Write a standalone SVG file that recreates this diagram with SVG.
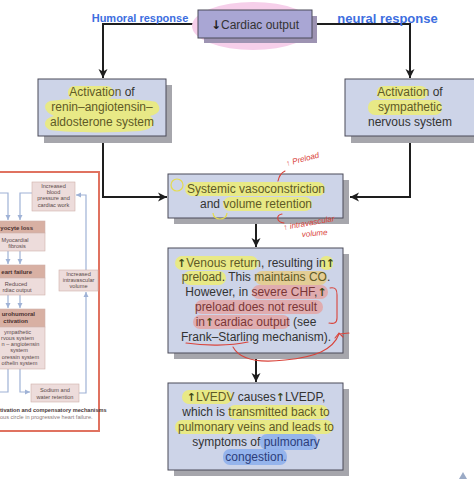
<svg xmlns="http://www.w3.org/2000/svg" width="474" height="481" viewBox="0 0 474 481">
<style>
text{font-family:"Liberation Sans",Arial,sans-serif}
.box{fill:#cdd4e8;stroke:#4a4a58;stroke-width:1}
.sh{fill:#a6a6ac}
.t{font-size:12px;fill:#333;text-anchor:middle}
.hy{fill:#ecec74;opacity:0.85}
.ho{fill:#e6cc8c;opacity:0.9}
.hp{fill:#e3a4a4;opacity:0.85}
.hb{fill:#8fb0ec;opacity:0.9}
.ol{fill:#5f5a26}
.rd{fill:#7a3636}
.bl{fill:#2c3d7a}
.ar{fill:#3e4a16;font-family:"DejaVu Sans",sans-serif;font-weight:bold;font-size:11px}
.con{fill:none;stroke:#1e1e1e;stroke-width:2}
.red{fill:none;stroke:#d9433a;stroke-width:1.1;stroke-linecap:round}
.rt{font-family:"Liberation Sans",sans-serif;font-style:italic;font-size:8px;fill:#d9433a}
.lp{fill:#eddcdb;stroke:#cfb1aa;stroke-width:0.6}
.lh{fill:#d8b0a3;stroke:#cfb1aa;stroke-width:0.6}
.st{font-size:5.6px;fill:#5a4a4a;text-anchor:middle}
.sb{font-size:6px;font-weight:bold;fill:#4a3030}
.bln{fill:none;stroke:#9fb2d6;stroke-width:1.2}
</style>
<defs>
<marker id="ah" markerUnits="userSpaceOnUse" markerWidth="10" markerHeight="10" refX="9" refY="5" orient="auto">
<path d="M0,0.5 L9,5 L0,9.5 L2.5,5 z" fill="#1e1e1e"/>
</marker>
<marker id="bh" markerUnits="userSpaceOnUse" markerWidth="6" markerHeight="6" refX="5" refY="3" orient="auto">
<path d="M0,0.5 L5,3 L0,5.5 z" fill="#9fb2d6"/>
</marker>
</defs>
<rect width="474" height="481" fill="#fff"/>

<!-- left inset panel -->
<g id="inset">
<rect x="-2" y="172" width="101" height="259" fill="#fff" stroke="#e07260" stroke-width="2"/>
<g fill="none">
<path class="bln" d="M0,193 H8 V220" marker-end="url(#bh)"/>
<path class="bln" d="M32,193 H20 V220" marker-end="url(#bh)"/>
<path class="bln" d="M8,251 V264" marker-end="url(#bh)"/>
<path class="bln" d="M20,251 V264" marker-end="url(#bh)"/>
<path class="bln" d="M8,295 V308" marker-end="url(#bh)"/>
<path class="bln" d="M20,295 V308" marker-end="url(#bh)"/>
<path class="bln" d="M8,369 V392 H0"/>
<path class="bln" d="M20,369 V392 H30" marker-end="url(#bh)"/>
<path class="bln" d="M79,393 H86 V292" marker-end="url(#bh)"/>
<path class="bln" d="M86,270 V195 H76" marker-end="url(#bh)"/>
</g>
<rect class="lp" x="32" y="182" width="43" height="29"/>
<text class="st" x="53.5" y="188">Increased</text>
<text class="st" x="53.5" y="194">blood</text>
<text class="st" x="53.5" y="200">pressure and</text>
<text class="st" x="53.5" y="206.5">cardiac work</text>
<rect class="lh" x="-5" y="221" width="50" height="12"/>
<rect class="lp" x="-5" y="233" width="50" height="18"/>
<text class="sb" x="33" y="229.5" text-anchor="end">yocyte loss</text>
<text class="st" x="15" y="242">Myocardial</text>
<text class="st" x="17" y="248">fibrosis</text>
<rect class="lh" x="-5" y="265" width="50" height="13"/>
<rect class="lp" x="-5" y="278" width="50" height="17"/>
<text class="sb" x="32" y="274" text-anchor="end">eart failure</text>
<text class="st" x="16" y="285.5">Reduced</text>
<text class="st" x="17" y="292">rdiac output</text>
<rect class="lh" x="-5" y="309" width="50" height="18"/>
<rect class="lp" x="-5" y="327" width="50" height="42"/>
<text class="sb" x="35" y="316" text-anchor="end">urohumoral</text>
<text class="sb" x="28" y="323" text-anchor="end">ctivation</text>
<text class="st" x="17.5" y="334">ympathetic</text>
<text class="st" x="17.5" y="340">rvous system</text>
<text class="st" x="20.5" y="346">n – angiotensin</text>
<text class="st" x="19" y="352">system</text>
<text class="st" x="20.5" y="359">oressin system</text>
<text class="st" x="19.5" y="365">othelin system</text>
<rect class="lp" x="59" y="270" width="39" height="21"/>
<text class="st" x="78.5" y="276">Increased</text>
<text class="st" x="78.5" y="282">intravascular</text>
<text class="st" x="78.5" y="288">volume</text>
<rect class="lp" x="31" y="384" width="48" height="18"/>
<text class="st" x="55" y="392">Sodium and</text>
<text class="st" x="55" y="398.5">water retention</text>
<text x="0" y="412" font-size="5.6" font-weight="bold" fill="#4a3a3a">tivation and compensatory mechanisms</text>
<text x="0" y="419" font-size="5.6" fill="#8a7a7a">ous circle in progressive heart failure.</text>
</g>

<!-- connectors -->
<g id="connectors">
<path class="con" d="M198,24 H103 V78" marker-end="url(#ah)"/>
<path class="con" d="M312,24 H410 V78" marker-end="url(#ah)"/>
<path class="con" d="M103,143 V197 H167" marker-end="url(#ah)"/>
<path class="con" d="M410,143 V197 H350" marker-end="url(#ah)"/>
<path class="con" d="M256,224 V247" marker-end="url(#ah)"/>
<path class="con" d="M256,359 V382" marker-end="url(#ah)"/>
</g>

<!-- response labels -->
<text x="140" y="22" font-size="11" font-weight="bold" fill="#3d6ee0" text-anchor="middle">Humoral response</text>
<text x="387.5" y="23" font-size="13" font-weight="bold" fill="#3d6ee0" text-anchor="middle">neural response</text>

<!-- top node -->
<g id="cardiac-output">
<ellipse cx="253" cy="26" rx="61" ry="24" fill="#f6cfea"/>
<rect x="204" y="16" width="113" height="27" fill="#9d93b2"/>
<rect x="198" y="10" width="114" height="28" fill="#a9a6d4" stroke="#4a4a58" stroke-width="1"/>
<text class="t" x="255" y="28.5"><tspan font-family="DejaVu Sans, sans-serif" font-weight="bold" fill="#1e1e1e" font-size="12">↓</tspan>Cardiac output</text>
</g>

<!-- RAAS -->
<g id="raas">
<rect class="sh" x="44" y="85" width="128" height="58"/>
<rect class="box" x="38" y="79" width="128" height="57"/>
<rect class="hy" x="68" y="86" width="45" height="13" rx="6"/>
<path class="hy" d="M50,101 C70,98 140,98 156,102 C162,108 160,114 150,116 C156,120 156,129 140,131 C110,133 70,133 50,130 C42,126 44,118 54,116 C44,112 42,104 50,101 z"/>
<text class="t" x="102" y="96"><tspan class="ol">Activation</tspan> of</text>
<text class="t ol" x="102" y="111">renin–angiotensin–</text>
<text class="t ol" x="102" y="126">aldosterone system</text>
</g>

<!-- sympathetic -->
<g id="sympathetic">
<rect class="sh" x="351" y="85" width="130" height="58"/>
<rect class="box" x="345" y="79" width="135" height="57"/>
<rect class="hy" x="377" y="86" width="50" height="13" rx="6"/>
<rect class="hy" x="368" y="100" width="74" height="15" rx="7"/>
<text class="t" x="410" y="96"><tspan class="ol">Activation</tspan> of</text>
<text class="t ol" x="410" y="111">sympathetic</text>
<text class="t" x="410" y="126">nervous system</text>
</g>

<!-- systemic vasoconstriction -->
<g id="vasoconstriction">
<rect class="sh" x="174" y="180" width="175" height="44"/>
<rect class="box" x="168" y="174" width="175" height="44"/>
<rect class="hy" x="185" y="182" width="140" height="14" rx="7"/>
<rect class="hy" x="223" y="197" width="89" height="14" rx="7"/>
<text class="t" x="256" y="193"><tspan class="ol">Systemic vasoconstriction</tspan></text>
<text class="t" x="256" y="208">and <tspan class="ol">volume retention</tspan></text>
<circle cx="177" cy="185" r="6" fill="none" stroke="#e4dc50" stroke-width="1.2"/>
<path d="M213,213 C213,221 227,221 227,213" fill="none" stroke="#e4dc50" stroke-width="1.2"/>
</g>

<!-- venous return -->
<g id="venous-return">
<rect class="sh" x="174" y="254" width="175" height="105"/>
<rect class="box" x="168" y="248" width="175" height="105"/>
<rect class="hy" x="175" y="256" width="83" height="14" rx="7"/>
<rect class="hy" x="320" y="256" width="13" height="14" rx="6"/>
<rect class="hy" x="183" y="271" width="43" height="14" rx="7"/>
<rect class="ho" x="255" y="271" width="72" height="14" rx="7"/>
<rect class="hp" x="252" y="285" width="76" height="14" rx="7"/>
<rect class="hp" x="195" y="300" width="128" height="14" rx="7"/>
<rect class="hp" x="193" y="315" width="97" height="14" rx="7"/>
<text class="t" x="256" y="267"><tspan class="ar">↑</tspan><tspan class="ol">Venous return</tspan>, resulting in<tspan class="ar">↑</tspan></text>
<text class="t" x="256" y="281"><tspan class="ol">preload</tspan>. This <tspan class="ol">maintains CO</tspan>.</text>
<text class="t" x="256" y="296">However, in <tspan class="rd">severe CHF</tspan>,<tspan class="ar">↑</tspan></text>
<text class="t rd" x="256" y="311">preload does not result</text>
<text class="t" x="256" y="326"><tspan class="rd">in</tspan><tspan class="ar">↑</tspan><tspan class="rd">cardiac output</tspan> (see</text>
<text class="t" x="256" y="341">Frank–Starling mechanism).</text>
</g>

<!-- LVEDV -->
<g id="lvedv">
<rect class="sh" x="174" y="389" width="175" height="87"/>
<rect class="box" x="168" y="383" width="175" height="87"/>
<rect class="hy" x="182" y="390" width="50" height="14" rx="7"/>
<rect class="hy" x="228" y="405" width="100" height="14" rx="7"/>
<rect class="hy" x="175" y="420" width="158" height="14" rx="7"/>
<rect class="hb" x="260" y="434" width="57" height="16" rx="7"/>
<rect class="hb" x="223" y="449" width="64" height="16" rx="7"/>
<text class="t" x="256" y="401"><tspan class="ar">↑</tspan><tspan class="ol">LVEDV</tspan> causes<tspan class="ar">↑</tspan>LVEDP,</text>
<text class="t" x="256" y="416">which is <tspan class="ol">transmitted back to</tspan></text>
<text class="t ol" x="256" y="431">pulmonary veins and leads to</text>
<text class="t" x="256" y="446">symptoms of <tspan class="bl">pulmonary</tspan></text>
<text class="t bl" x="256" y="461">congestion.</text>
</g>

<!-- handwritten annotations -->
<g id="annotations">
<path class="red" d="M278,181 C279,176 281,173 285,171"/>
<text class="rt" x="287" y="166" transform="rotate(-15 287 166)">↑ Preload</text>
<path class="red" d="M282,214 C276,215 276,222 284,223"/>
<text class="rt" x="284" y="230" transform="rotate(-10 284 230)">↑ intravascular</text>
<text class="rt" x="302" y="237" transform="rotate(-5 302 237)">volume</text>
<path class="red" d="M330,288 C336,287 337,290 337,295 V318 C337,323 334,324 329,323"/>
<path class="red" d="M186,343 C205,346 230,346 248,342"/>
<path class="red" d="M233,347 C240,360 260,363 285,360 C315,357 333,350 339,334"/>
<path class="red" d="M335,338 L339,333 L343,337 M339,334 L349,333"/>
</g>

<polygon points="459,479 467,479 463,472" fill="#9aaac6"/>
</svg>
